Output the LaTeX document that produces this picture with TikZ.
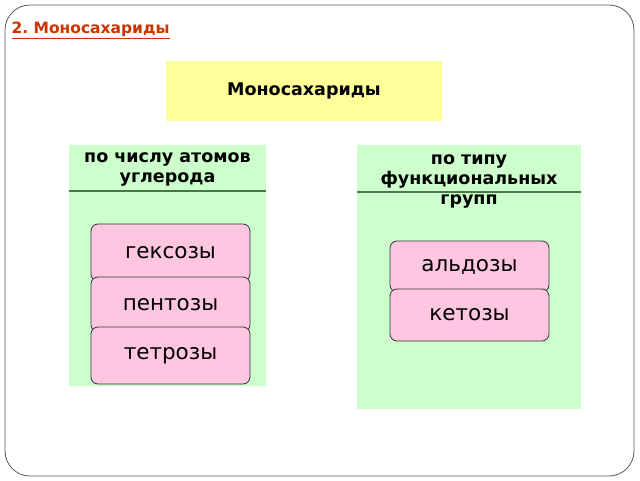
\documentclass[tikz,border=0pt]{standalone}
\usepackage{fontspec}
\setmainfont{DejaVu Sans}
\begin{document}
\begin{tikzpicture}[x=1pt,y=-1pt,
  pinkbox/.style={rectangle, rounded corners=7pt, draw=black!80, line width=0.8pt, fill={rgb,255:red,255;green,198;blue,226}, minimum width=159pt, font=\fontsize{21.5}{24}\selectfont},
  hdr/.style={font=\bfseries\fontsize{17.5}{20}\selectfont, align=center}]
\useasboundingbox (0,0) rectangle (640,480);
\draw[black!65, line width=0.8pt, rounded corners=25pt] (5,5) rectangle (634,476);
\node[anchor=west, text={rgb,255:red,204;green,51;blue,0}, font=\bfseries\fontsize{15.5}{18}\selectfont] (title) at (8,30) {\underline{2.~Моносахариды}};
\node[fill={rgb,255:red,255;green,255;blue,153}, minimum width=276pt, minimum height=60pt, font=\bfseries\fontsize{17.5}{20}\selectfont] (top) at (304,91) {Моносахариды};
\fill[green!20] (69,145) rectangle (266,386);
\draw[black!60!green!40!gray, line width=1.2pt] (69,191) -- (266,191);
\node[hdr] (lh) at (167.5,169) {по числу атомов\\углерода};
\fill[green!20] (357,145) rectangle (581,409);
\draw[black!60!green!40!gray, line width=1.2pt] (357,192) -- (581,192);
\node[hdr] (rh) at (469,181) {по типу\\функциональных\\групп};
\node[pinkbox, minimum height=57pt] (g) at (170.5,252.5) {гексозы};
\node[pinkbox, minimum height=55pt] (p) at (170.5,304.5) {пентозы};
\node[pinkbox, minimum height=57pt] (t) at (170.5,355.5) {тетрозы};
\node[pinkbox, minimum height=51pt] (a) at (469.5,266.5) {альдозы};
\node[pinkbox, minimum height=52pt] (k) at (469.5,315) {кетозы};
\end{tikzpicture}
\end{document}
